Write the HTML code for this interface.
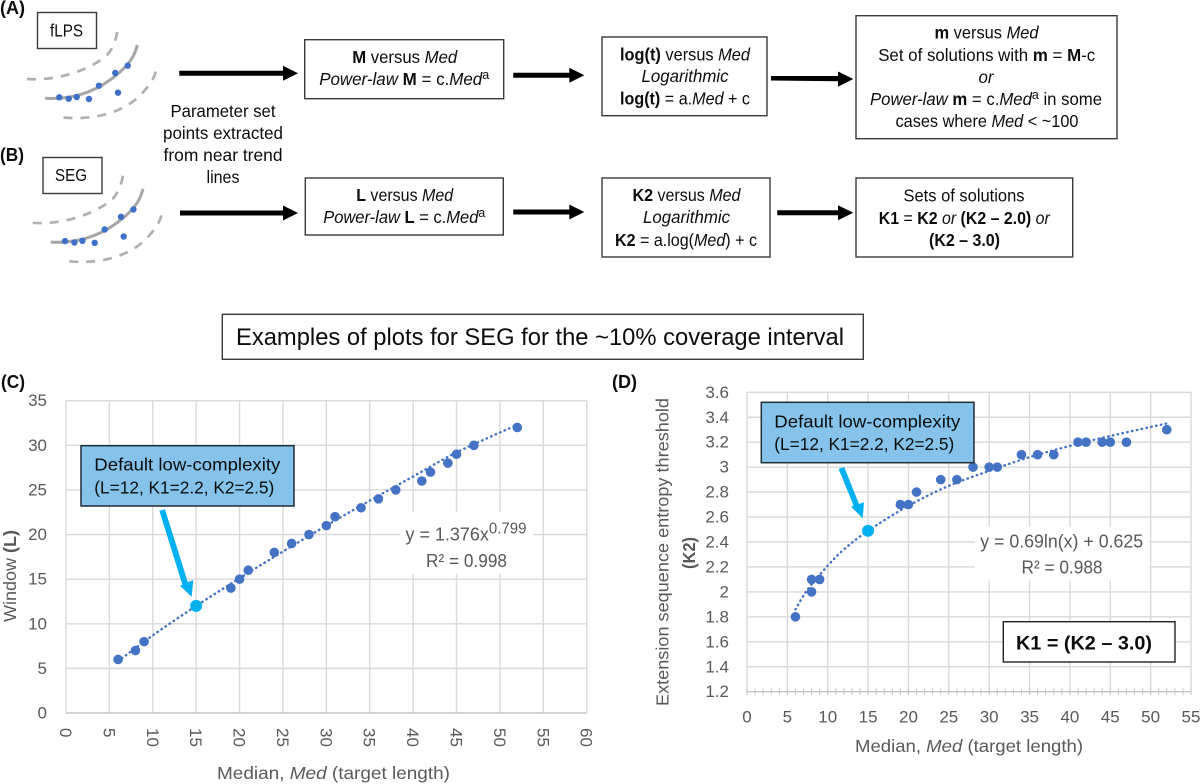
<!DOCTYPE html>
<html lang="en">
<head>
<meta charset="utf-8">
<title>SEG and fLPS parameter workflow with example plots</title>
<style>
html,body{margin:0;padding:0;background:#fff;width:1200px;height:784px;overflow:hidden}
svg{display:block}
text{font-family:"Liberation Sans",Arial,sans-serif;fill:#0c0c0c}
.box{fill:#fff;stroke:#3a3a3a;stroke-width:1.4}
.flow{font-size:17.5px;text-anchor:middle}
.b{font-weight:bold}
.i{font-style:italic}
.panel{font-size:18px;font-weight:bold}
.axis-label{fill:#595959;font-size:17.5px}
.eq{fill:#595959;font-size:18.5px;text-anchor:middle}
.callout{fill:#85c3ea;stroke:#1f2d36;stroke-width:1.5}
.call-text{font-size:17.5px}
.sk-solid{fill:none;stroke:#a6a6a6;stroke-width:3}
.sk-dash{fill:none;stroke:#b0b0b0;stroke-width:2.7;stroke-dasharray:9 8}
.sk-dot{fill:#3f70c8}
</style>
</head>
<body>
<svg id="page" xmlns="http://www.w3.org/2000/svg" width="1200" height="784" viewBox="0 0 1200 784">
  <rect width="1200" height="784" fill="#fff"/>

  <!-- panel labels -->
  <text class="panel" x="0" y="14" textLength="25" lengthAdjust="spacingAndGlyphs">(A)</text>
  <text class="panel" x="0" y="161" textLength="24" lengthAdjust="spacingAndGlyphs">(B)</text>
  <text class="panel" x="1" y="388" textLength="24" lengthAdjust="spacingAndGlyphs">(C)</text>
  <text class="panel" x="612" y="388" textLength="25" lengthAdjust="spacingAndGlyphs">(D)</text>

  <!-- sketches -->
  <g id="sketch-a">
    <path class="sk-dash" d="M27 79C55 81 85 72 105 57C113 50 117 38 118 26"/>
    <path class="sk-dash" d="M63.5 117.5C90 120 125 115 145 90C152 82 156 75 157 65"/>
    <path class="sk-solid" d="M45 98.3C75 100 100 90 120 72C130 63 135 55 137.3 45"/>
    <g class="sk-dot">
      <circle cx="59.3" cy="97.3" r="3.2"/><circle cx="68.7" cy="98.7" r="3.2"/><circle cx="76.7" cy="97" r="3.2"/><circle cx="89" cy="99" r="3.2"/><circle cx="99" cy="85.7" r="3.2"/><circle cx="115.3" cy="73" r="3.2"/><circle cx="127.7" cy="65.7" r="3.2"/><circle cx="118" cy="92.7" r="3.2"/>
    </g>
  </g>
  <g transform="translate(5.7 143.8)">
    <path class="sk-dash" d="M27 79C55 81 85 72 105 57C113 50 117 38 118 26"/>
    <path class="sk-dash" d="M63.5 117.5C90 120 125 115 145 90C152 82 156 75 157 65"/>
    <path class="sk-solid" d="M45 98.3C75 100 100 90 120 72C130 63 135 55 137.3 45"/>
    <g class="sk-dot">
      <circle cx="59.3" cy="97.3" r="3.2"/><circle cx="68.7" cy="98.7" r="3.2"/><circle cx="76.7" cy="97" r="3.2"/><circle cx="89" cy="99" r="3.2"/><circle cx="99" cy="85.7" r="3.2"/><circle cx="115.3" cy="73" r="3.2"/><circle cx="127.7" cy="65.7" r="3.2"/><circle cx="118" cy="92.7" r="3.2"/>
    </g>
  </g>

  <rect class="box" x="37.5" y="12.5" width="59" height="36"/>
  <text class="flow" x="66.5" y="36.5" textLength="33" lengthAdjust="spacingAndGlyphs">fLPS</text>
  <rect class="box" x="43" y="157.5" width="59" height="36"/>
  <text class="flow" x="71" y="181" textLength="32" lengthAdjust="spacingAndGlyphs">SEG</text>

  <!-- parameter note -->
  <g>
    <text class="flow" x="223" y="117" textLength="105" lengthAdjust="spacingAndGlyphs">Parameter set</text>
    <text class="flow" x="223" y="139" textLength="120" lengthAdjust="spacingAndGlyphs">points extracted</text>
    <text class="flow" x="223" y="161" textLength="119" lengthAdjust="spacingAndGlyphs">from near trend</text>
    <text class="flow" x="223" y="183" textLength="33" lengthAdjust="spacingAndGlyphs">lines</text>
  </g>

  <!-- flow arrows -->
  <g fill="#000">
    <path d="M179.3 70.8H283V65.8L298 73.3L283 80.8V75.8H179.3Z"/>
    <path d="M180 210.5H283V205.5L298 213L283 220.5V215.5H180Z"/>
    <path d="M513.3 72.8H569.3V67.8L584.3 75.3L569.3 82.8V77.8H513.3Z"/>
    <path d="M513.3 209.5H569.3V204.5L584.3 212L569.3 219.5V214.5H513.3Z"/>
    <path d="M771 76H838V71.5L853.3 79L838 86.8V81.3L771 80.5Z"/>
    <path d="M777.3 210.2H838V205.2L853.3 212.7L838 220.2V215.2H777.3Z"/>
  </g>

  <!-- flow boxes -->
  <rect class="box" x="304.7" y="39.7" width="199" height="59"/>
  <text class="flow" x="404.7" y="63" textLength="105" lengthAdjust="spacingAndGlyphs"><tspan class="b">M</tspan> versus <tspan class="i">Med</tspan></text>
  <text class="flow" x="404.2" y="85" textLength="170" lengthAdjust="spacingAndGlyphs"><tspan class="i">Power-law</tspan> <tspan class="b">M</tspan> = c.<tspan class="i">Med</tspan><tspan font-size="13" dy="-6">a</tspan></text>

  <rect class="box" x="602" y="37" width="165" height="78.7"/>
  <text class="flow" x="685" y="60.5" textLength="130" lengthAdjust="spacingAndGlyphs"><tspan class="b">log(t)</tspan> versus <tspan class="i">Med</tspan></text>
  <text class="flow i" x="685" y="82" textLength="87" lengthAdjust="spacingAndGlyphs">Logarithmic</text>
  <text class="flow" x="685" y="104.5" textLength="130" lengthAdjust="spacingAndGlyphs"><tspan class="b">log(t)</tspan> = a.<tspan class="i">Med</tspan> + c</text>

  <rect class="box" x="856" y="15.7" width="261" height="123"/>
  <text class="flow" x="986.5" y="38.7" textLength="104" lengthAdjust="spacingAndGlyphs"><tspan class="b">m</tspan> versus <tspan class="i">Med</tspan></text>
  <text class="flow" x="986.7" y="61" textLength="217" lengthAdjust="spacingAndGlyphs">Set of solutions with <tspan class="b">m</tspan> = <tspan class="b">M</tspan>-c</text>
  <text class="flow i" x="986" y="83" textLength="15" lengthAdjust="spacingAndGlyphs">or</text>
  <text class="flow" x="986" y="105" textLength="232" lengthAdjust="spacingAndGlyphs"><tspan class="i">Power-law</tspan> <tspan class="b">m</tspan> = c.<tspan class="i">Med</tspan><tspan font-size="13" dy="-6">a</tspan><tspan dy="6"> in some</tspan></text>
  <text class="flow" x="987" y="127" textLength="183" lengthAdjust="spacingAndGlyphs">cases where <tspan class="i">Med</tspan> &lt; ~100</text>

  <rect class="box" x="305.3" y="178" width="198" height="57"/>
  <text class="flow" x="404.7" y="201" textLength="97" lengthAdjust="spacingAndGlyphs"><tspan class="b">L</tspan> versus <tspan class="i">Med</tspan></text>
  <text class="flow" x="404.2" y="223" textLength="162" lengthAdjust="spacingAndGlyphs"><tspan class="i">Power-law</tspan> <tspan class="b">L</tspan> = c.<tspan class="i">Med</tspan><tspan font-size="13" dy="-6">a</tspan></text>

  <rect class="box" x="602" y="178" width="168" height="79"/>
  <text class="flow" x="686.5" y="201" textLength="108" lengthAdjust="spacingAndGlyphs"><tspan class="b">K2</tspan> versus <tspan class="i">Med</tspan></text>
  <text class="flow i" x="686.5" y="223" textLength="87" lengthAdjust="spacingAndGlyphs">Logarithmic</text>
  <text class="flow" x="686" y="246" textLength="142" lengthAdjust="spacingAndGlyphs"><tspan class="b">K2</tspan> = a.log(<tspan class="i">Med</tspan>) + c</text>

  <rect class="box" x="856" y="178" width="216.7" height="79"/>
  <text class="flow" x="964" y="201.7" textLength="121" lengthAdjust="spacingAndGlyphs">Sets of solutions</text>
  <text class="flow" x="964.3" y="224" textLength="171" lengthAdjust="spacingAndGlyphs"><tspan class="b">K1</tspan> = <tspan class="b">K2</tspan> <tspan class="i">or</tspan> <tspan class="b">(K2 – 2.0)</tspan> <tspan class="i">or</tspan></text>
  <text class="flow b" x="964.5" y="246" textLength="71" lengthAdjust="spacingAndGlyphs">(K2 – 3.0)</text>

  <!-- section title -->
  <rect class="box" x="222.3" y="314.3" width="641" height="45"/>
  <text x="540" y="345" text-anchor="middle" font-size="24.5" textLength="608" lengthAdjust="spacingAndGlyphs">Examples of plots for SEG for the ~10% coverage interval</text>

  <!-- charts drawn by script -->
  <g id="chart-c"></g>
  <g id="chart-d"></g>

  <!-- chart C titles and annotations -->
  <text class="axis-label" transform="translate(16 576) rotate(-90)" text-anchor="middle" textLength="92" lengthAdjust="spacingAndGlyphs">Window <tspan class="b" fill="#595959">(L)</tspan></text>
  <text class="axis-label" x="333.5" y="779" text-anchor="middle" textLength="233" lengthAdjust="spacingAndGlyphs">Median, <tspan class="i" fill="#595959">Med</tspan>  (target length)</text>
  <rect x="400" y="512" width="133" height="62" fill="#fff"/>
  <text class="eq" x="466" y="540.7" textLength="121" lengthAdjust="spacingAndGlyphs">y = 1.376x<tspan font-size="15.5" dy="-7" fill="#595959">0.799</tspan></text>
  <text class="eq" x="466.5" y="567" textLength="81" lengthAdjust="spacingAndGlyphs">R² = 0.998</text>
  <rect class="callout" x="81" y="445.7" width="213" height="60.3"/>
  <text class="call-text" x="94.3" y="470.7" textLength="186" lengthAdjust="spacingAndGlyphs">Default low-complexity</text>
  <text class="call-text" x="94.3" y="493.5" textLength="180" lengthAdjust="spacingAndGlyphs">(L=12, K1=2.2, K2=2.5)</text>
  <path d="M159.3 510.7L165 509.3L187.8 582.3L193.3 580L191.7 596.7L180 585.7L182.4 584.6Z" fill="#00b0f0"/>

  <!-- chart D titles and annotations -->
  <text class="axis-label" transform="translate(668.3 552) rotate(-90)" text-anchor="middle" textLength="308" lengthAdjust="spacingAndGlyphs">Extension sequence entropy threshold</text>
  <text class="axis-label b" transform="translate(695 553) rotate(-90)" text-anchor="middle" textLength="32" lengthAdjust="spacingAndGlyphs">(K2)</text>
  <text class="axis-label" x="969" y="752" text-anchor="middle" textLength="228" lengthAdjust="spacingAndGlyphs">Median, <tspan class="i" fill="#595959">Med</tspan> (target length)</text>
  <rect x="975" y="526.7" width="174.3" height="54" fill="#fff"/>
  <text class="eq" x="1061.7" y="547.3" textLength="163" lengthAdjust="spacingAndGlyphs">y = 0.69ln(x) + 0.625</text>
  <text class="eq" x="1062" y="573.3" textLength="81" lengthAdjust="spacingAndGlyphs">R² = 0.988</text>
  <rect class="callout" x="761.3" y="402.3" width="212.7" height="60.4"/>
  <text class="call-text" x="774.3" y="427.3" textLength="186" lengthAdjust="spacingAndGlyphs">Default low-complexity</text>
  <text class="call-text" x="774.3" y="450" textLength="180" lengthAdjust="spacingAndGlyphs">(L=12, K1=2.2, K2=2.5)</text>
  <path d="M838.6 469L844.2 467L859 504L864 502.3L862.7 518.3L851 506.7L853.7 505.8Z" fill="#00b0f0"/>
  <rect x="1003.3" y="621.7" width="171.7" height="40.3" fill="#fff" stroke="#222" stroke-width="1.4"/>
  <text class="b" x="1016" y="649.3" font-size="19.5" textLength="136" lengthAdjust="spacingAndGlyphs">K1 = (K2 – 3.0)</text>
</svg>

<script>
// Chart C: window L versus median target length
const cMedian = [6, 8, 9, 19, 20, 21, 24, 26, 28, 30, 31, 34, 36, 38, 41, 42, 44, 45, 47, 52];
const cWindow = [6, 7, 8, 14, 15, 16, 18, 19, 20, 21, 22, 23, 24, 25, 26, 27, 28, 29, 30, 32];
const cHighlightMedian = [15];
const cHighlightWindow = [12];
const cTrendMedian = [6, 10, 15, 20, 25, 30, 35, 40, 45, 52];
const cTrendWindow = [5.8, 8.7, 12, 15.1, 18.1, 21, 23.8, 26.5, 29.2, 32.3];
const cXTicks = ['0', '5', '10', '15', '20', '25', '30', '35', '40', '45', '50', '55', '60'];
const cYTicks = ['0', '5', '10', '15', '20', '25', '30', '35'];

// Chart D: K2 threshold versus median target length
const dMedian = [6, 8, 8, 9, 19, 20, 21, 24, 26, 28, 30, 31, 34, 36, 38, 41, 42, 44, 45, 47, 52];
const dK2 = [1.8, 2, 2.1, 2.1, 2.7, 2.7, 2.8, 2.9, 2.9, 3, 3, 3, 3.1, 3.1, 3.1, 3.2, 3.2, 3.2, 3.2, 3.2, 3.3];
const dHighlightMedian = [15];
const dHighlightK2 = [2.49];
const dTrendMedian = [6, 7, 8, 10, 12, 15, 20, 25, 30, 35, 40, 45, 52];
const dTrendK2 = [1.86, 1.97, 2.06, 2.21, 2.34, 2.49, 2.69, 2.85, 2.97, 3.08, 3.17, 3.25, 3.35];
const dXTicks = ['0', '5', '10', '15', '20', '25', '30', '35', '40', '45', '50', '55'];
const dYTicks = ['1.2', '1.4', '1.6', '1.8', '2', '2.2', '2.4', '2.6', '2.8', '3', '3.2', '3.4', '3.6'];

const NS = 'http://www.w3.org/2000/svg';
const GRID = '#d9d9d9';
const DOT = '#4472c4';
const HIGHLIGHT = '#00b0f0';
const LABEL = '#595959';

function make(parent, tag, attrs) {
  const el = document.createElementNS(NS, tag);
  for (const k in attrs) el.setAttribute(k, attrs[k]);
  parent.appendChild(el);
  return el;
}

function trendPath(xs, ys, sx, sy) {
  // smooth Catmull-Rom path through the trendline values
  const pts = xs.map((x, i) => [sx(x), sy(ys[i])]);
  let d = 'M' + pts[0][0].toFixed(2) + ' ' + pts[0][1].toFixed(2);
  for (let i = 0; i < pts.length - 1; i++) {
    const p0 = pts[Math.max(i - 1, 0)], p1 = pts[i], p2 = pts[i + 1], p3 = pts[Math.min(i + 2, pts.length - 1)];
    const c1x = p1[0] + (p2[0] - p0[0]) / 6, c1y = p1[1] + (p2[1] - p0[1]) / 6;
    const c2x = p2[0] - (p3[0] - p1[0]) / 6, c2y = p2[1] - (p3[1] - p1[1]) / 6;
    d += 'C' + c1x.toFixed(2) + ' ' + c1y.toFixed(2) + ' ' + c2x.toFixed(2) + ' ' + c2y.toFixed(2) + ' ' + p2[0].toFixed(2) + ' ' + p2[1].toFixed(2);
  }
  return d;
}

/* ---------- Chart C ---------- */
(function () {
  const root = document.getElementById('chart-c');
  const x0 = 66, x1 = 586.7, y0 = 713, y1 = 400.7;
  const xMax = Number(cXTicks[cXTicks.length - 1]);
  const yMax = Number(cYTicks[cYTicks.length - 1]);
  const sx = v => x0 + (v / xMax) * (x1 - x0);
  const sy = v => y0 - (v / yMax) * (y0 - y1);

  cXTicks.forEach(t => {
    const v = Number(t);
    const line = make(root, 'line', { x1: sx(v), x2: sx(v), y1: y1, y2: y0, stroke: GRID, 'stroke-width': 1.4 });
    
    
    const label = make(root, 'text', { transform: 'translate(' + (sx(v) - 6) + ' 728) rotate(90)', 'font-size': 17 });
    label.textContent = t;
    label.style.fill = LABEL;
    
    
  });
  cYTicks.forEach(t => {
    const v = Number(t);
    const line = make(root, 'line', { x1: x0, x2: x1, y1: sy(v), y2: sy(v), stroke: v === 0 ? '#c4c4c4' : GRID, 'stroke-width': 1.4 });
    
    
    const label = make(root, 'text', { x: 47, y: sy(v) + 5.5, 'text-anchor': 'end', 'font-size': 17 });
    label.textContent = t;
    label.style.fill = LABEL;
    
    
  });

  const trend = make(root, 'path', { d: trendPath(cTrendMedian, cTrendWindow, sx, sy), fill: 'none', stroke: DOT, 'stroke-width': 2.4, 'stroke-linecap': 'round', 'stroke-dasharray': '0.5 4.4' });
  
  

  cMedian.forEach((m, i) => {
    const pt = make(root, 'circle', { cx: sx(m), cy: sy(cWindow[i]), r: 4.8, fill: DOT });
    
    
  });
  cHighlightMedian.forEach((m, i) => {
    const pt = make(root, 'circle', { cx: sx(m), cy: sy(cHighlightWindow[i]), r: 6, fill: HIGHLIGHT });
    
    
  });
})();

/* ---------- Chart D ---------- */
(function () {
  const root = document.getElementById('chart-d');
  const x0 = 747, x1 = 1191, y0 = 691.7, y1 = 392.3;
  const xMax = Number(dXTicks[dXTicks.length - 1]);
  const yMin = Number(dYTicks[0]);
  const yMax = Number(dYTicks[dYTicks.length - 1]);
  const sx = v => x0 + (v / xMax) * (x1 - x0);
  const sy = v => y0 - ((v - yMin) / (yMax - yMin)) * (y0 - y1);

  dXTicks.forEach(t => {
    const v = Number(t);
    const line = make(root, 'line', { x1: sx(v), x2: sx(v), y1: y1, y2: y0 + 3, stroke: GRID, 'stroke-width': 1.4 });
    
    
    const label = make(root, 'text', { x: sx(v), y: 722.7, 'text-anchor': 'middle', 'font-size': 17 });
    label.textContent = t;
    label.style.fill = LABEL;
    
    
  });
  for (let v = 0; v <= xMax; v++) {
    const tick = make(root, 'line', { x1: sx(v), x2: sx(v), y1: y0 - 4, y2: y0 + 3.5, stroke: '#cfcfcf', 'stroke-width': 1.1 });
    
    
  }
  dYTicks.forEach((t, i) => {
    const v = Number(t);
    const line = make(root, 'line', { x1: x0, x2: x1, y1: sy(v), y2: sy(v), stroke: i === 0 ? '#c4c4c4' : GRID, 'stroke-width': 1.4 });
    
    
    const label = make(root, 'text', { x: 729, y: sy(v) + 5.5, 'text-anchor': 'end', 'font-size': 17 });
    label.textContent = t;
    label.style.fill = LABEL;
    
    
  });

  const trend = make(root, 'path', { d: trendPath(dTrendMedian, dTrendK2, sx, sy), fill: 'none', stroke: DOT, 'stroke-width': 2.4, 'stroke-linecap': 'round', 'stroke-dasharray': '0.5 4.4' });
  
  

  dMedian.forEach((m, i) => {
    const pt = make(root, 'circle', { cx: sx(m), cy: sy(dK2[i]), r: 4.8, fill: DOT });
    
    
  });
  dHighlightMedian.forEach((m, i) => {
    const pt = make(root, 'circle', { cx: sx(m), cy: sy(dHighlightK2[i]), r: 6, fill: HIGHLIGHT });
    
    
  });
})();
</script>
</body>
</html>
